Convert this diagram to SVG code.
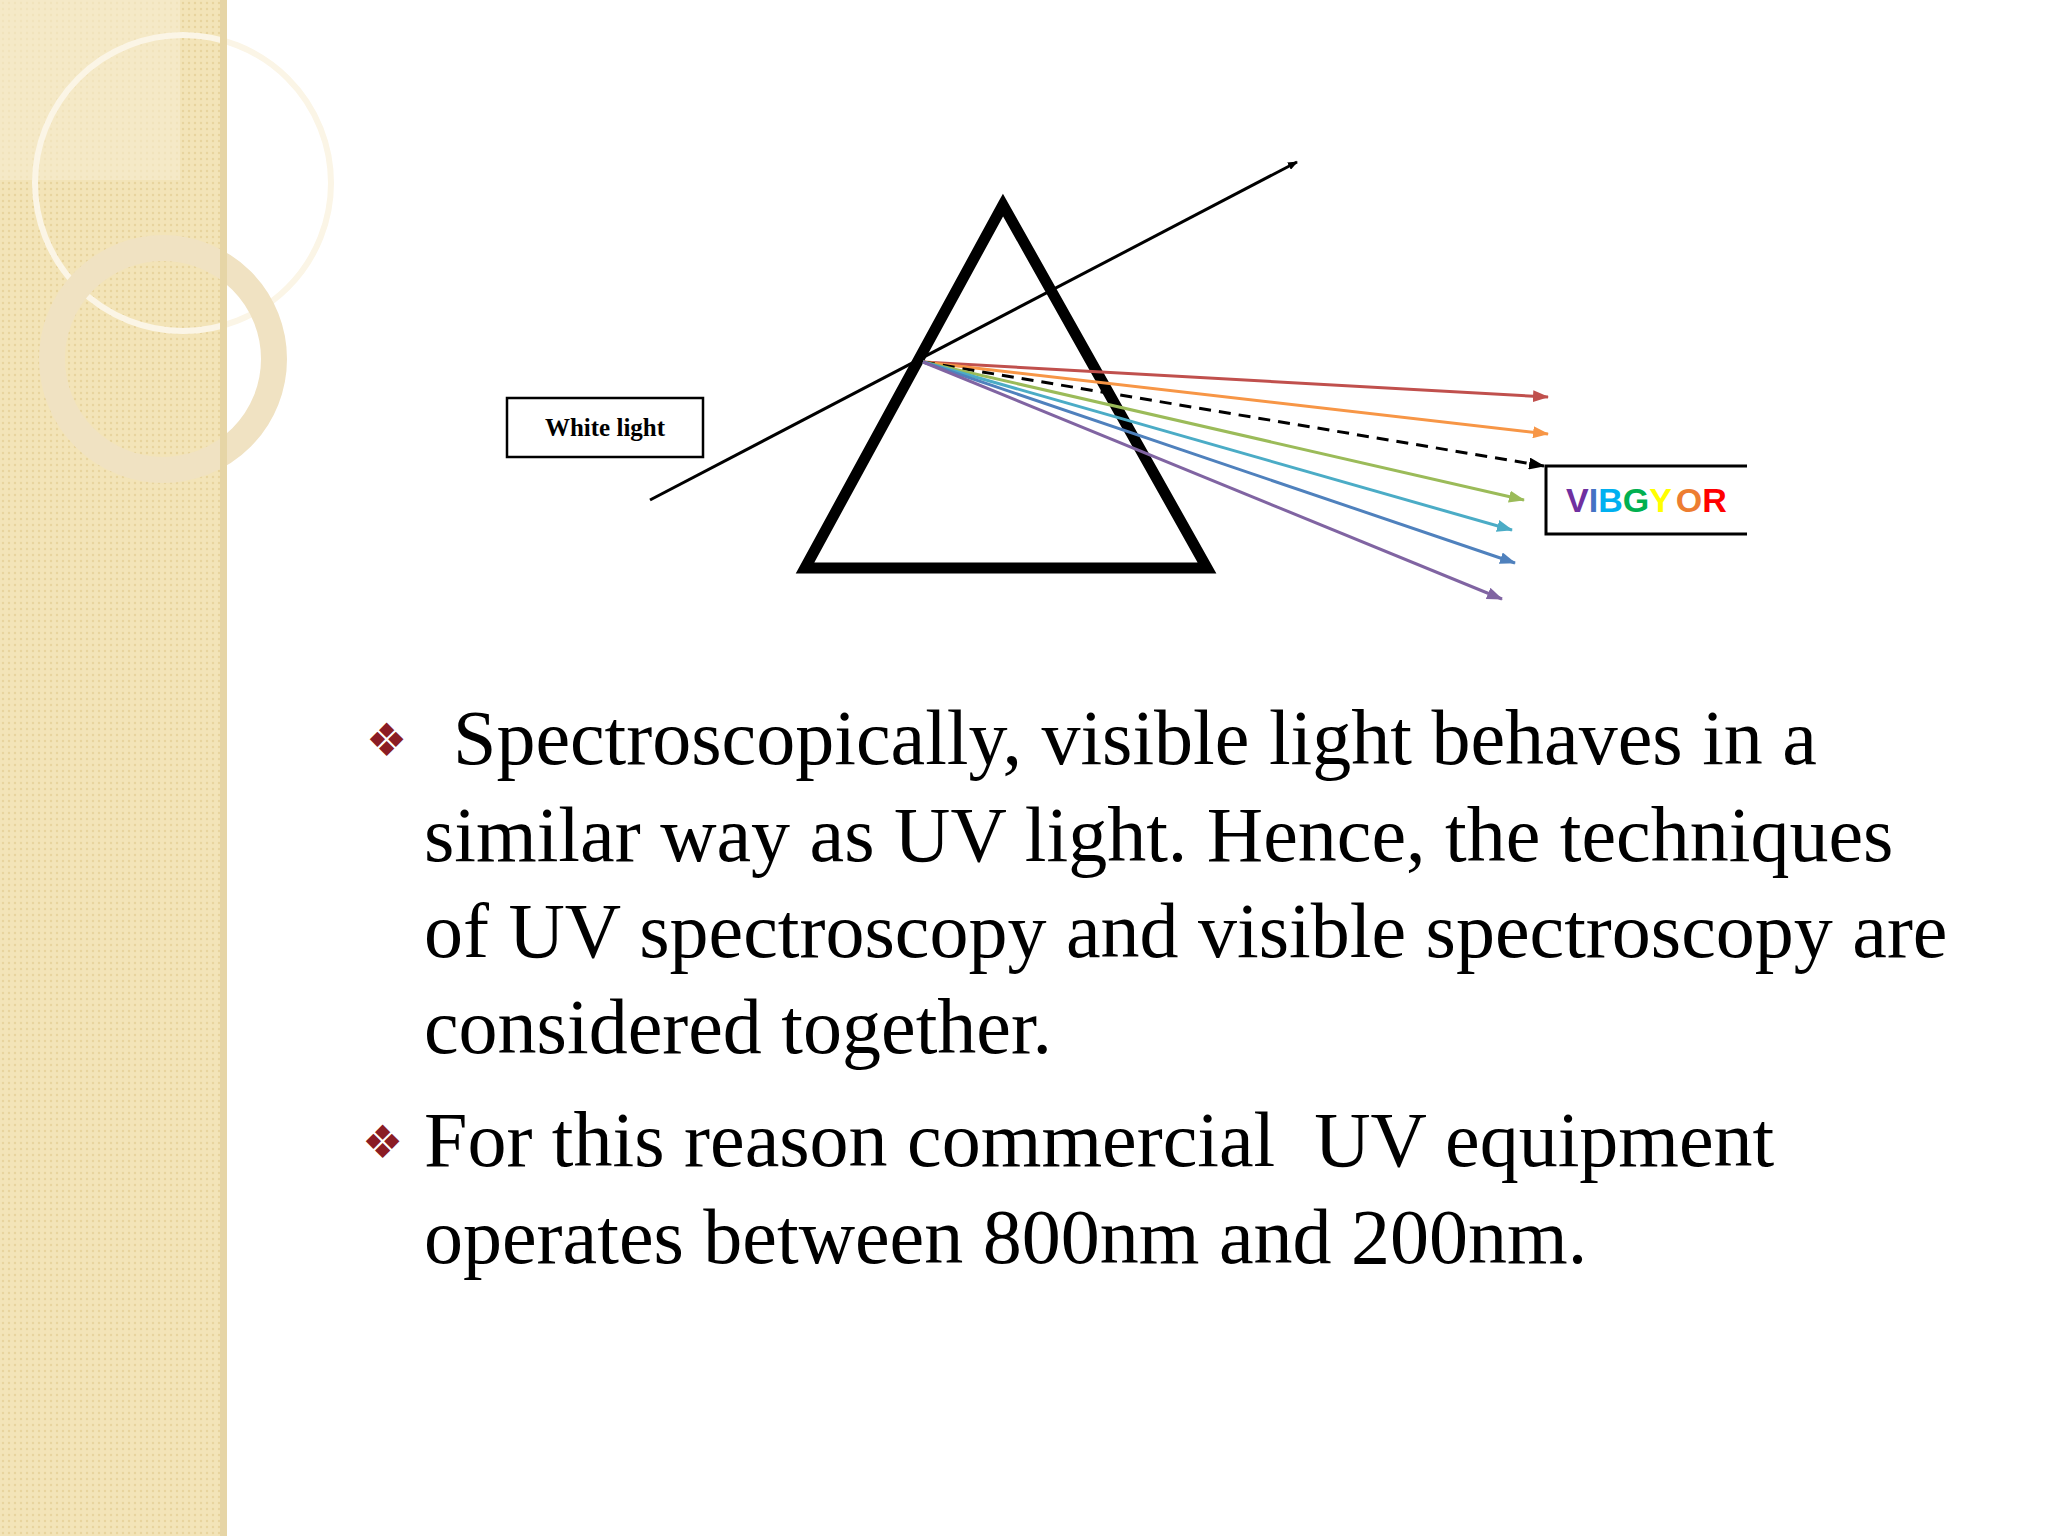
<svg xmlns="http://www.w3.org/2000/svg" width="2048" height="1536" viewBox="0 0 2048 1536">
<defs>
<pattern id="dots" width="6" height="6" patternUnits="userSpaceOnUse"><rect width="6" height="6" fill="#f3e4b8"/><circle cx="3" cy="3" r="1.2" fill="#e8d49e"/></pattern>
<marker id="ak" markerWidth="10" markerHeight="8" refX="9" refY="4" orient="auto" markerUnits="userSpaceOnUse"><path d="M0,0 L10,4 L0,8 Z" fill="#000"/></marker>
<marker id="ar" markerWidth="16" markerHeight="12" refX="15" refY="6" orient="auto" markerUnits="userSpaceOnUse"><path d="M0,0 L16,6 L0,12 Z" fill="context-stroke"/></marker>
</defs>
<style>
.ray{fill:none;stroke-width:3;marker-end:url(#ar)}
.body{font-family:"Liberation Serif",serif;font-size:78px;fill:#000}
.bul{font-family:"DejaVu Sans",sans-serif;font-size:46px;fill:#8b1c24}
</style>
<rect width="2048" height="1536" fill="#fff"/>
<g id="sidebar">
<rect width="227" height="1536" fill="url(#dots)"/>
<rect x="0" y="0" width="180" height="180" fill="#f7ecd0" opacity="0.6"/>
<circle cx="183" cy="183" r="148" fill="none" stroke="#fbf5e6" stroke-width="6"/>
<circle cx="163" cy="359" r="111" fill="none" stroke="#f0e2c2" stroke-width="26"/>
<rect x="220" y="0" width="7" height="1536" fill="#e6d5a6"/>
</g>
<g id="prism"><polygon points="1003,205 805,568 1207,568" fill="none" stroke="#000" stroke-width="11" stroke-linejoin="miter"/></g>
<g id="connectors">
<line x1="650" y1="500" x2="1297" y2="162" stroke="#000" stroke-width="3" marker-end="url(#ak)"/>
<path class="ray" stroke="#c0504d" d="M923,362 L1548,397"/>
<path class="ray" stroke="#f79646" d="M923,362 L1548,434"/>
<path class="ray" stroke="#000" stroke-dasharray="12,8" stroke-width="4" d="M923,362 L1544,466"/>
<path class="ray" stroke="#9bbb59" d="M923,362 L1524,500"/>
<path class="ray" stroke="#4bacc6" d="M923,362 L1512,530"/>
<path class="ray" stroke="#4f81bd" d="M923,362 L1515,563"/>
<path class="ray" stroke="#8064a2" d="M923,362 L1502,599"/>
</g>
<g id="white-light">
<rect x="507" y="398" width="196" height="59" fill="#fff" stroke="#000" stroke-width="2.5"/>
<text x="605" y="436" text-anchor="middle" font-family="Liberation Serif,serif" font-weight="bold" font-size="25">White light</text>
</g>
<g id="vibgyor">
<path d="M1747,466 H1546 V534 H1747" fill="#fff" stroke="#000" stroke-width="3"/>
<text x="1566" y="512" font-family="Liberation Sans,sans-serif" font-weight="bold" font-size="34"><tspan fill="#7030a0">V</tspan><tspan fill="#4472c4">I</tspan><tspan fill="#00b0f0">B</tspan><tspan fill="#00b050">G</tspan><tspan fill="#ffff00">Y</tspan><tspan fill="#ed7d31" dx="4">O</tspan><tspan fill="#ff0000">R</tspan></text>
</g>
<g id="text">
<text class="bul" x="366" y="756">❖</text>
<text class="body" x="453" y="764">Spectroscopically, visible light behaves in a</text>
<text class="body" x="424" y="861">similar way as UV light. Hence, the techniques</text>
<text class="body" x="424" y="957">of UV spectroscopy and visible spectroscopy are</text>
<text class="body" x="424" y="1053">considered together.</text>
<text class="bul" x="362" y="1158">❖</text>
<text class="body" x="424" y="1166" xml:space="preserve">For this reason commercial  UV equipment</text>
<text class="body" x="424" y="1263">operates between 800nm and 200nm.</text>
</g>
</svg>
